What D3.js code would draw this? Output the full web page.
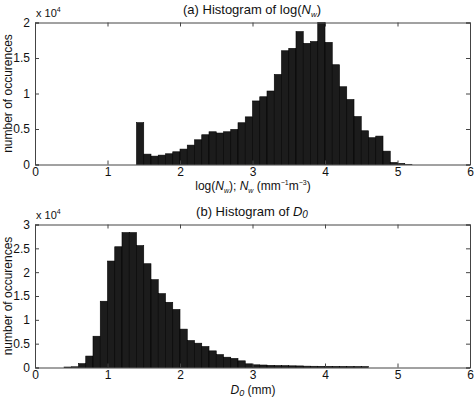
<!DOCTYPE html>
<html>
<head>
<meta charset="utf-8">
<script src="https://cdn.jsdelivr.net/npm/d3@7"></script>
<style>
  body { margin: 0; background: #fff; }
  text { font-family: "Liberation Sans", Arial, sans-serif; fill: #111; }
</style>
</head>
<body>
<svg id="chart" width="474" height="399"></svg>
<script>
// bin left edges (width 0.1) and counts
const nwBins = [1.4, 1.5, 1.6, 1.7, 1.8, 1.9, 2.0, 2.1, 2.2, 2.3, 2.4, 2.5, 2.6, 2.7, 2.8, 2.9,
  3.0, 3.1, 3.2, 3.3, 3.4, 3.5, 3.6, 3.7, 3.8, 3.9, 4.0, 4.1, 4.2, 4.3, 4.4, 4.5, 4.6, 4.7,
  4.8, 4.9, 5.0, 5.1];
const nwCounts = [5890, 1460, 1180, 1320, 1510, 1790, 2170, 2730, 3480, 4190, 4610, 4430, 4610, 4940, 5880, 6710,
  8950, 9540, 10350, 12680, 16020, 16360, 18720, 17060, 17320, 20000, 17200, 14050, 10950, 9150, 6750, 4750, 3770, 4000,
  1880, 280, 150, 30];

const d0Bins = [0.4, 0.5, 0.6, 0.7, 0.8, 0.9, 1.0, 1.1, 1.2, 1.3, 1.4, 1.5, 1.6, 1.7, 1.8, 1.9,
  2.0, 2.1, 2.2, 2.3, 2.4, 2.5, 2.6, 2.7, 2.8, 2.9, 3.0, 3.1, 3.2, 3.3, 3.4, 3.5, 3.6, 3.7,
  3.8, 3.9, 4.0, 4.1, 4.2, 4.3, 4.4, 4.5];
const d0Counts = [100, 150, 800, 2400, 6560, 13900, 22330, 25330, 28300, 28300, 25570, 21770, 18420, 15490, 13680, 12170,
  8050, 5650, 5100, 4400, 3490, 2700, 2160, 1900, 1400, 770, 560, 520, 450, 400, 380, 350, 330, 280,
  260, 250, 240, 230, 220, 210, 200, 190];

const binWidth = 0.1;
const xTicks = [0, 1, 2, 3, 4, 5, 6];
const yTicksA = [0, 5000, 10000, 15000, 20000];
const yTicksB = [0, 5000, 10000, 15000, 20000, 25000, 30000];

const svg = d3.select("#chart");

function drawPanel(bins, counts, yMax, yTicks, top, bottom) {
  const left = 35, right = 470;
  const x = d3.scaleLinear().domain([0, 6]).range([left, right]);
  const y = d3.scaleLinear().domain([0, yMax]).range([bottom, top]);
  const g = svg.append("g");

  g.selectAll("rect.bar").data(bins).enter().append("rect")
    .attr("class", "bar")
    .attr("x", d => x(d))
    .attr("width", d => x(d + binWidth) - x(d))
    .attr("y", (d, i) => y(counts[i]))
    .attr("height", (d, i) => y(0) - y(counts[i]))
    .attr("fill", "#1c1c1c")
    .attr("stroke", "#000")
    .attr("stroke-width", 0.6);

  // axes with inward ticks on all sides
  const fmt = d => d3.format("")(d / 10000);
  g.append("g").attr("transform", `translate(0,${bottom})`)
    .call(d3.axisBottom(x).tickValues(xTicks).tickSize(-4).tickPadding(3).tickFormat(d3.format("d")));
  g.append("g").attr("transform", `translate(0,${top})`)
    .call(d3.axisTop(x).tickValues(xTicks).tickSize(-4).tickFormat(""));
  g.append("g").attr("transform", `translate(${left},0)`)
    .call(d3.axisLeft(y).tickValues(yTicks).tickSize(-4).tickPadding(5).tickFormat(fmt));
  g.append("g").attr("transform", `translate(${right},0)`)
    .call(d3.axisRight(y).tickValues(yTicks).tickSize(-4).tickFormat(""));

  g.selectAll(".domain").attr("stroke", "#444");
  g.selectAll(".tick line").attr("stroke", "#444");
  g.selectAll(".tick text").attr("font-size", 12).attr("font-family", "Liberation Sans, Arial, sans-serif").attr("fill", "#111");

  // multiplier
  const m = g.append("text").attr("x", 36).attr("y", top - 6).attr("font-size", 11);
  m.append("tspan").text("x 10");
  m.append("tspan").attr("dy", -5).attr("font-size", 7).text("4");

  // y label
  g.append("text")
    .attr("transform", `translate(12,${(top + bottom) / 2}) rotate(-90)`)
    .attr("text-anchor", "middle").attr("font-size", 12)
    .text("number of occurences");
}

drawPanel(nwBins, nwCounts, 20000, yTicksA, 22.5, 164.5);
drawPanel(d0Bins, d0Counts, 30000, yTicksB, 224.5, 367.5);

// titles and x labels
const t1 = svg.append("text").attr("x", 252).attr("y", 14).attr("text-anchor", "middle").attr("font-size", 13);
t1.append("tspan").text("(a) Histogram of log(");
t1.append("tspan").attr("font-style", "italic").text("N");
t1.append("tspan").attr("font-style", "italic").attr("font-size", 8).attr("dy", 3).text("w");
t1.append("tspan").attr("dy", -3).text(")");

const l1 = svg.append("text").attr("x", 253).attr("y", 190).attr("text-anchor", "middle").attr("font-size", 12);
l1.append("tspan").text("log(");
l1.append("tspan").attr("font-style", "italic").text("N");
l1.append("tspan").attr("font-style", "italic").attr("font-size", 7).attr("dy", 3).text("w");
l1.append("tspan").attr("dy", -3).text("); ");
l1.append("tspan").attr("font-style", "italic").text("N");
l1.append("tspan").attr("font-style", "italic").attr("font-size", 7).attr("dy", 3).text("w");
l1.append("tspan").attr("dy", -3).text(" (mm");
l1.append("tspan").attr("font-size", 7).attr("dy", -5).text("−1");
l1.append("tspan").attr("dy", 5).text("m");
l1.append("tspan").attr("font-size", 7).attr("dy", -5).text("−3");
l1.append("tspan").attr("dy", 5).text(")");

const t2 = svg.append("text").attr("x", 252).attr("y", 216).attr("text-anchor", "middle").attr("font-size", 13);
t2.append("tspan").text("(b) Histogram of ");
t2.append("tspan").attr("font-style", "italic").text("D");
t2.append("tspan").attr("font-style", "italic").attr("font-size", 10).attr("dy", 2).text("0");

const l2 = svg.append("text").attr("x", 253).attr("y", 394).attr("text-anchor", "middle").attr("font-size", 12);
l2.append("tspan").attr("font-style", "italic").text("D");
l2.append("tspan").attr("font-style", "italic").attr("font-size", 9).attr("dy", 2).text("0");
l2.append("tspan").attr("dy", -2).text(" (mm)");
</script>
</body>
</html>
